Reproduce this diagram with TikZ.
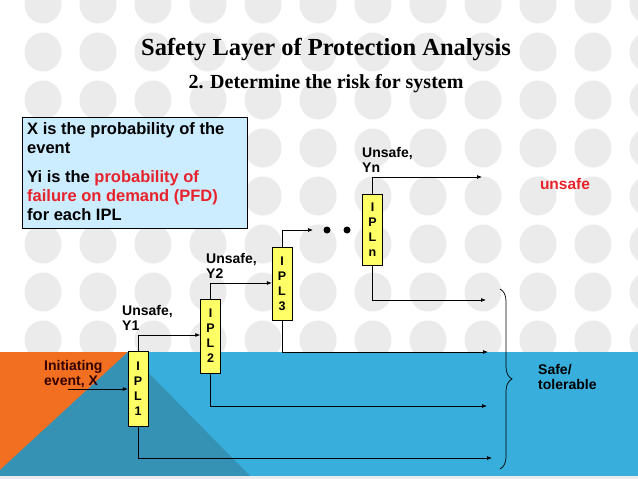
\documentclass[tikz,border=0pt]{standalone}
\usepackage{fontspec}
\setmainfont{Liberation Sans}
\newfontfamily\titlefont{Liberation Serif}
\usetikzlibrary{arrows.meta,decorations.pathreplacing}
\definecolor{dotgrey}{HTML}{EBEBEB}
\definecolor{bandblue}{HTML}{38AEDC}
\definecolor{darkblue}{HTML}{3592B4}
\definecolor{orng}{HTML}{F26F21}
\definecolor{ipl}{HTML}{FFFF66}
\definecolor{notebg}{HTML}{CCECFF}
\definecolor{redtxt}{HTML}{E8222A}
\tikzset{
  iplbox/.style={draw=black,fill=ipl,minimum width=20pt,inner sep=0pt,align=center,font=\bfseries\fontsize{12.5}{15}\selectfont},
  lbl/.style={align=left,anchor=north west,inner sep=0pt,font=\bfseries\fontsize{14}{15}\selectfont},
  flow/.style={-{Latex[length=5pt,width=4pt]},line width=0.7pt},
}
\begin{document}
\begin{tikzpicture}[x=1pt,y=-1pt]
\useasboundingbox (0,0) rectangle (638,479);
\fill[white] (0,0) rectangle (638,479);
\foreach \i in {0,...,11}{\foreach \j in {0,...,7}{
  \fill[dotgrey] ({43+55*(\i-1)+55},{4+48*\j}) ellipse (18.5 and 19.5);}}
\fill[bandblue] (0,352) rectangle (638,476);
\fill[orng] (0,352) -- (128,352) -- (0,479) -- cycle;
\fill[darkblue] (128,352) -- (250,476) -- (0,476) -- (0,470) -- cycle;
\fill[dotgrey] (0,476) rectangle (638,479);
% titles
\node[font=\titlefont\bfseries\fontsize{24.5}{28}\selectfont] (t1) at (326,50) {Safety Layer of Protection Analysis};
\node[font=\titlefont\bfseries\fontsize{20}{24}\selectfont] (t2) at (326,84) {2. Determine the risk for system};
% note box
\node[draw=black,fill=notebg,anchor=north west,minimum width=225pt,minimum height=111pt,inner sep=0pt] (note) at (22,117) {};
\node[lbl,font=\bfseries\fontsize{16.5}{19}\selectfont] (notetxt) at (27,122) {X is the probability of the\\event};
\node[lbl,font=\bfseries\fontsize{16.5}{19}\selectfont] (notetxt2) at (27,170) {Yi is the \textcolor{redtxt}{probability of}\\\textcolor{redtxt}{failure on demand (PFD)}\\for each IPL};
% IPL boxes
\node[iplbox,minimum height=75pt] (p1) at (138,388.5) {I\\P\\L\\1};
\node[iplbox,minimum height=74pt] (p2) at (210.5,336) {I\\P\\L\\2};
\node[iplbox,minimum height=73pt] (p3) at (282,283.5) {I\\P\\L\\3};
\node[iplbox,minimum height=71pt] (pn) at (372.5,229.5) {I\\P\\L\\n};
% labels
\node[lbl,text=black!80!red] (init) at (44,360) {Initiating\\event, X};
\node[lbl] (u1) at (122,305) {Unsafe,\\Y1};
\node[lbl] (u2) at (206,253) {Unsafe,\\Y2};
\node[lbl] (un) at (362,147) {Unsafe,\\Yn};
\node[font=\bfseries\fontsize{15.5}{17}\selectfont,text=redtxt] (uns) at (565,184) {unsafe};
\node[lbl] (safe) at (538,364) {Safe/\\tolerable};
% coordinates
\coordinate (ie) at (68,389);
\coordinate (e1) at (492,458);
\coordinate (e2) at (487,406);
\coordinate (e3) at (488,352);
\coordinate (en) at (486,300);
\coordinate (eu) at (482,177);
\coordinate (d1) at (313,230);
% flows
\draw[flow] (ie) -- (p1.west |- ie);
\draw[flow] (p1.north) |- (p2.west |- 0,335);
\draw[flow] (p1.south) |- (e1);
\draw[flow] (p2.north) |- (p3.west |- 0,283);
\draw[flow] (p2.south) |- (e2);
\draw[flow] (p3.north) |- (d1);
\draw[flow] (p3.south) |- (e3);
\draw[flow] (pn.north) |- (eu);
\draw[flow] (pn.south) |- (en);
\fill (327,230) circle (3.5);
\fill (347,230) circle (3.5);
\draw[line width=0.7pt,decorate,decoration={brace,amplitude=12pt}] (500,289) -- (500,469);
\end{tikzpicture}
\end{document}
